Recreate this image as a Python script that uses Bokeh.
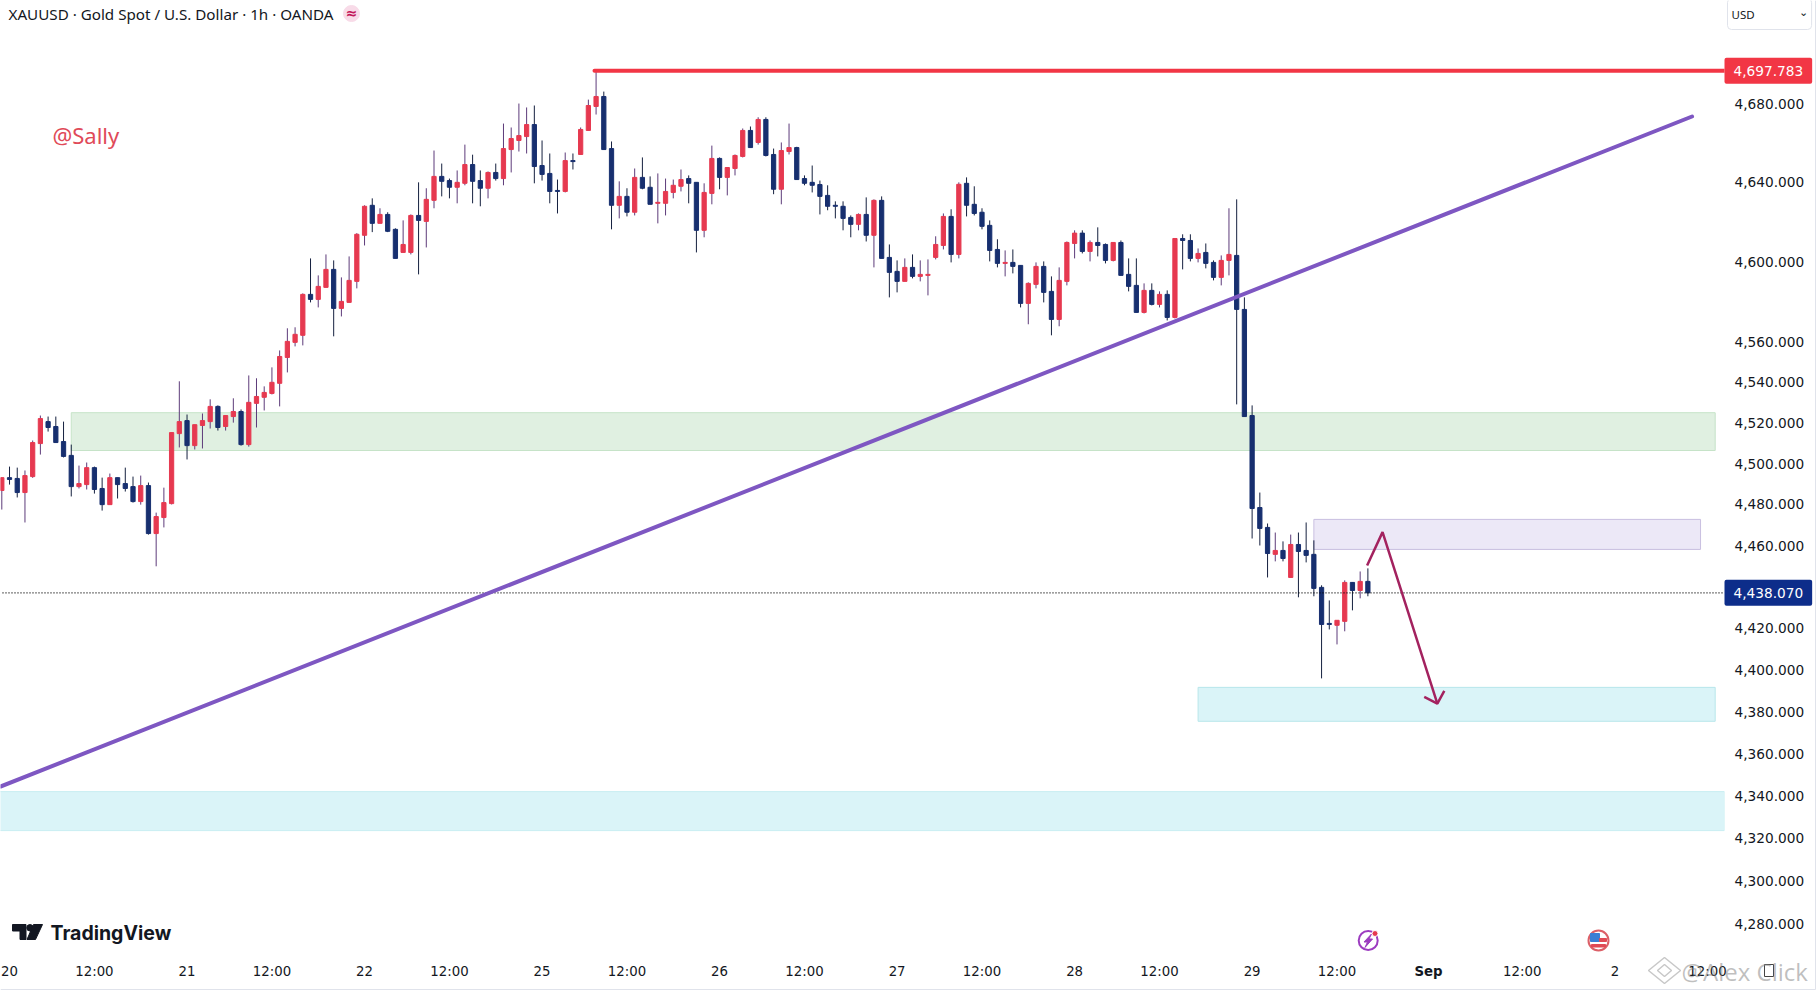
import math
from bokeh.embed import file_html
from bokeh.layouts import column
from bokeh.resources import INLINE
from bokeh.plotting import figure
from bokeh.models import (FixedTicker, Label, Range1d, ColumnDataSource)

# ---------- data ----------
opens = [
4487.8,4494.1,4493.7,4486.8,4494.6,4510.8,4521.6,4519.2,4511.8,4505.0,
4489.7,4490.7,4499.0,4488.8,4480.9,4494.1,4491.2,4489.7,4482.4,4490.2,
4466.8,4474.6,4481.4,4515.7,4522.1,4509.8,4519.7,4521.6,4529.1,4519.2,
4524.1,4526.6,4510.3,4530.6,4533.6,4535.5,4540.5,4553.3,4560.8,4564.3,
4584.7,4582.2,4588.2,4597.2,4577.7,4580.7,4591.2,4614.3,4629.4,4620.3,
4624.8,4617.3,4605.7,4605.7,4624.3,4621.3,4631.9,4644.0,4641.9,4638.5,
4640.5,4650.0,4641.9,4638.0,4646.0,4642.9,4657.6,4662.2,4664.2,4670.3,
4649.5,4645.5,4636.9,4636.4,4652.0,4655.1,4667.3,4679.5,4684.6,4658.1,
4629.4,4633.9,4625.9,4643.5,4638.5,4630.4,4630.4,4635.9,4639.0,4642.9,
4641.0,4616.8,4635.4,4653.1,4643.5,4648.0,4654.1,4667.3,4661.2,4672.9,
4655.1,4637.5,4656.6,4658.6,4642.9,4641.0,4639.9,4634.4,4629.4,4628.9,
4623.3,4619.8,4624.8,4614.3,4631.9,4603.2,4596.2,4591.2,4598.2,4593.7,
4594.2,4603.2,4609.2,4623.8,4604.7,4640.5,4629.9,4625.9,4619.3,4607.2,
4600.2,4600.7,4599.2,4580.2,4589.7,4598.7,4586.2,4572.2,4591.2,4610.2,
4615.4,4606.2,4610.7,4609.7,4601.7,4610.7,4594.7,4589.2,4575.7,4586.7,
4579.7,4584.7,4573.2,4612.7,4611.7,4602.7,4605.7,4600.7,4593.2,4601.7,
4604.2,4577.2,4524.6,4479.5,4469.8,4456.7,4458.6,4445.5,4461.5,4458.6,
4456.7,4440.7,4423.3,4422.4,4424.3,4443.1,4439.2,4443.6]
highs = [
4494.1,4499.5,4499.0,4497.6,4512.3,4524.6,4524.1,4524.1,4521.6,4510.3,
4500.0,4501.5,4499.5,4494.1,4496.1,4494.1,4499.0,4494.6,4495.1,4491.7,
4477.0,4489.2,4516.2,4541.5,4525.1,4520.1,4525.6,4532.6,4529.6,4524.6,
4533.1,4527.6,4544.4,4543.0,4539.0,4548.4,4556.8,4567.8,4568.3,4585.2,
4602.7,4594.2,4604.7,4601.7,4593.2,4603.7,4615.4,4629.4,4632.9,4627.9,
4625.9,4617.8,4621.8,4624.8,4641.0,4638.0,4657.1,4650.5,4642.9,4647.0,
4660.1,4655.0,4647.0,4646.5,4650.5,4670.8,4668.8,4681.0,4679.0,4680.0,
4662.2,4655.6,4642.4,4656.1,4655.6,4668.8,4683.0,4697.8,4687.1,4661.7,
4641.5,4638.0,4648.0,4653.6,4644.0,4645.5,4642.9,4642.4,4647.5,4644.5,
4641.0,4640.5,4659.6,4653.6,4648.5,4655.1,4668.3,4669.3,4674.0,4674.0,
4658.1,4661.2,4670.8,4659.0,4644.5,4649.5,4641.9,4639.5,4631.4,4631.4,
4624.3,4625.3,4633.4,4632.4,4633.9,4609.7,4601.7,4602.7,4604.7,4601.7,
4602.2,4613.8,4625.3,4627.4,4641.0,4643.5,4639.0,4627.9,4621.8,4612.3,
4606.7,4607.2,4599.2,4590.7,4600.7,4601.2,4593.7,4598.2,4611.2,4616.8,
4616.8,4611.7,4618.3,4610.2,4610.7,4611.7,4602.7,4602.7,4590.2,4590.2,
4586.2,4586.7,4612.7,4614.8,4614.8,4607.7,4610.2,4601.7,4604.2,4627.9,
4632.4,4583.2,4529.6,4486.8,4471.7,4467.3,4463.0,4466.3,4467.3,4472.2,
4463.5,4441.7,4434.4,4424.8,4444.1,4443.1,4448.4,4449.9]
lows = [
4478.5,4490.7,4484.4,4472.2,4494.0,4505.4,4516.7,4511.3,4504.0,4484.9,
4488.8,4488.3,4486.3,4478.0,4480.9,4483.9,4487.3,4481.9,4480.9,4466.3,
4450.9,4469.8,4481.0,4508.9,4503.0,4507.9,4508.4,4518.2,4517.2,4517.2,
4521.1,4509.8,4509.3,4518.7,4527.1,4535.0,4529.1,4545.9,4558.8,4559.3,
4580.7,4578.2,4588.2,4563.8,4573.7,4580.7,4587.7,4609.2,4615.9,4620.3,
4615.9,4602.7,4605.7,4604.7,4594.7,4608.2,4627.9,4633.9,4632.9,4630.4,
4639.5,4630.4,4628.9,4632.9,4641.9,4639.5,4646.0,4656.6,4655.6,4640.5,
4641.9,4630.4,4625.3,4635.9,4647.5,4655.0,4667.3,4675.4,4657.6,4617.3,
4622.8,4623.8,4624.3,4637.5,4629.9,4620.3,4624.3,4632.9,4636.4,4630.4,
4605.7,4613.3,4629.9,4637.5,4634.4,4644.5,4653.6,4658.6,4660.1,4654.1,
4635.0,4629.9,4655.1,4642.4,4639.5,4635.9,4624.8,4626.9,4622.8,4616.8,
4613.3,4616.8,4611.2,4598.2,4602.7,4583.2,4585.7,4591.2,4592.7,4591.2,
4584.2,4602.2,4607.2,4600.7,4602.7,4623.8,4624.3,4617.3,4601.2,4598.2,
4593.7,4595.2,4578.2,4569.8,4587.7,4580.7,4564.3,4568.8,4589.2,4602.7,
4605.2,4601.2,4603.7,4600.2,4601.2,4594.2,4586.2,4575.7,4575.2,4579.2,
4578.2,4571.7,4572.7,4597.2,4601.2,4600.7,4597.7,4591.7,4589.2,4594.2,
4530.1,4524.1,4464.4,4461.0,4445.5,4453.3,4453.3,4445.5,4435.9,4452.8,
4436.4,4396.9,4420.4,4413.2,4419.5,4429.6,4435.4,4436.4]
closes = [
4494.1,4493.2,4486.8,4495.1,4511.3,4523.1,4518.7,4511.3,4504.5,4489.7,
4491.2,4499.0,4488.3,4480.9,4494.1,4490.7,4488.8,4482.4,4490.2,4466.8,
4475.1,4481.9,4516.2,4521.6,4509.8,4520.1,4522.1,4529.1,4518.7,4524.6,
4526.6,4510.3,4531.1,4534.0,4536.0,4541.0,4553.8,4561.3,4564.8,4584.7,
4582.2,4588.7,4597.2,4577.7,4581.2,4591.7,4614.8,4628.9,4620.3,4624.8,
4616.3,4602.7,4609.7,4624.3,4621.8,4632.4,4644.0,4641.5,4638.5,4641.0,
4650.0,4641.5,4638.0,4646.0,4642.9,4658.1,4663.2,4664.7,4670.3,4649.0,
4645.0,4636.4,4636.4,4652.0,4651.5,4667.8,4680.0,4684.6,4657.6,4629.4,
4633.9,4625.9,4643.5,4638.0,4629.9,4630.9,4636.4,4639.5,4642.4,4640.5,
4616.8,4635.9,4653.1,4643.5,4648.5,4654.6,4667.3,4658.6,4672.9,4654.6,
4637.5,4657.1,4658.6,4642.4,4640.5,4639.5,4633.9,4628.9,4628.9,4622.8,
4619.8,4624.8,4614.3,4631.9,4602.7,4595.7,4591.2,4598.2,4593.7,4594.7,
4594.7,4609.7,4623.8,4604.7,4640.0,4629.4,4625.3,4618.8,4606.7,4600.2,
4600.7,4598.7,4580.2,4590.2,4598.7,4585.7,4572.2,4591.7,4610.7,4615.4,
4606.2,4610.7,4609.2,4601.7,4610.7,4594.2,4588.7,4575.7,4586.7,4579.7,
4584.7,4573.2,4612.7,4611.7,4602.7,4605.2,4600.2,4593.2,4601.7,4604.7,
4577.2,4524.1,4479.0,4469.3,4457.1,4458.6,4454.7,4461.5,4458.1,4456.2,
4440.2,4422.8,4422.8,4424.8,4443.1,4439.2,4443.6,4438.07]

price_ticks = [4680,4640,4600,4560,4540,4520,4500,4480,4460,4420,4400,4380,4360,4340,4320,4300,4280]
time_pos = [1,12,24,35,47,58,70,81,93,104,116,127,139,150,162,173,197,209,221]
time_lab = ["20","12:00","21","12:00","22","12:00","25","12:00","26","12:00","27","12:00","28","12:00","29","12:00","12:00","2","12:00"]

zones = [  # left bar, right bar, upper price, lower price, fill, border
    (9.0, 222.0, 4526.0, 4507.4, "#e0f0e1", "#c6e3c8"),
    (170.0, 220.1, 4473.7, 4459.1, "#ece8f7", "#c9bfe0"),
    (155.0, 222.0, 4392.6, 4376.4, "#daf4f8", "#b8e6ea"),
    (-1.0, 223.2, 4343.0, 4324.6, "#daf4f8", "#c8eef2"),
]
peak_price = 4697.783
last_price = 4438.07
trend_x = [-0.17, 219.0]
trend_y = [4345.4, 4674.4]
arrow_x = [176.9, 178.9, 186.0]
arrow_y = [4451.3, 4467.5, 4384.8]
head_x = [184.3, 186.0, 186.9]
head_y = [4388.0, 4384.8, 4390.9]

# ---------- layout helpers ----------
W, H = 1817, 994
FW, FH = 1724, 950
STEP = 7.718
LABEL_NUDGE = 1.0   # price-scale labels sit about 2px above their grid position
def bx(px):
    return (px - 1.3) / STEP
def pr(py):
    return 4680 * math.exp(-(py - 105) / 9181)
def py_of(price):
    return 105 + 9181 * math.log(4680 / price)

p = figure(width=W, height=H, output_backend="svg", toolbar_location=None,
           y_axis_type="log", y_axis_location="right", frame_align=False,
           x_range=Range1d(bx(0), bx(FW)), y_range=Range1d(pr(FH), pr(0)),
           min_border_left=0, min_border_top=0, min_border_right=W-FW, min_border_bottom=H-FH)
p.styles = {"position": "absolute", "left": "0px", "top": "0px"}
p.outline_line_color = None
p.background_fill_color = "white"
p.grid.visible = False

ya = p.yaxis[0]
ya.ticker = FixedTicker(ticks=[t + LABEL_NUDGE for t in price_ticks])
ya.major_label_overrides = {t + LABEL_NUDGE: f"{t:,.3f}" for t in price_ticks}
ya.axis_line_color = None
ya.major_tick_line_color = None
ya.minor_tick_line_color = None
ya.major_tick_out = 0
ya.minor_tick_out = 0
ya.major_label_standoff = 10
ya.major_label_text_font = "DejaVu Sans"
ya.major_label_text_font_size = "13.7px"
ya.major_label_text_color = "#131722"

xa = p.xaxis[0]
xa.ticker = FixedTicker(ticks=time_pos)
xa.major_label_overrides = dict(zip(time_pos, time_lab))
xa.axis_line_color = None
xa.major_tick_line_color = None
xa.minor_tick_line_color = None
xa.major_tick_out = 0
xa.minor_tick_out = 0
xa.major_label_standoff = 13
xa.major_label_text_font = "DejaVu Sans"
xa.major_label_text_font_size = "13.3px"
xa.major_label_text_color = "#131722"

# zones
for l, r, t, b, f, c in zones:
    p.quad(left=l, right=r, top=t, bottom=b, fill_color=f, line_color=c, line_width=1)

# candles
RED, BLUE = "#e63950", "#172f6f"
idx = list(range(len(opens)))
up = [c >= o for o, c in zip(opens, closes)]
src = ColumnDataSource(dict(
    x=idx, h=highs, l=lows,
    top=[max(o, c) for o, c in zip(opens, closes)],
    bot=[min(o, c) for o, c in zip(opens, closes)],
    col=[RED if u else BLUE for u in up],
    wick=["#5d3b7a" if u else "#15203f" for u in up]))
p.segment(x0="x", x1="x", y0="l", y1="h", color="wick", line_width=1, source=src)
p.vbar(x="x", width=0.55, top="top", bottom="bot", fill_color="col", line_color="col", line_width=1, source=src)

# drawings
p.line([bx(1722), bx(0)], [last_price, last_price], line_color="#000000", line_dash="1 2", line_width=1.2)
p.line(trend_x, trend_y, line_color="#7e57c2", line_width=4, line_cap="round")
p.line([bx(594), bx(FW)], [peak_price, peak_price], line_color="#f23645", line_width=4, line_cap="round")
p.line(arrow_x, arrow_y, line_color="#a3225f", line_width=2.5)
p.line(head_x, head_y, line_color="#a3225f", line_width=2.5)

# ---------- transparent page-sized layer for everything around the pane ----------
q = figure(width=W, height=H, output_backend="svg", toolbar_location=None, frame_align=False,
           x_range=Range1d(0, W), y_range=Range1d(H, 0),
           min_border_left=0, min_border_top=0, min_border_right=0, min_border_bottom=0)
q.styles = {"position": "absolute", "left": "0px", "top": "0px"}
q.axis.visible = False
q.grid.visible = False
q.outline_line_color = None
q.background_fill_color = None
q.border_fill_color = None

def txt(s, px, py, size, color, font="DejaVu Sans", style="normal", align="left", alpha=1.0, **kw):
    q.add_layout(Label(x=px, y=py, text=s, text_font=font, text_font_size=size,
                       text_color=color, text_font_style=style, text_align=align,
                       text_baseline="middle", text_alpha=alpha, **kw))

txt("XAUUSD · Gold Spot / U.S. Dollar · 1h · OANDA", 8, 13, "15.2px", "#131722", font="Noto Sans")
q.scatter([351], [13], size=16, color="#f8dbe8")
txt("≈", 351, 12.5, "14px", "#c2185b", align="center", style="bold")
txt("@Sally", 52, 134, "22px", "#e04a58", font="Noto Sans")
txt("TradingView", 50, 932, "19.5px", "#131722", font="Inter", style="bold")
txt("Sep", 1428, 970.5, "13.3px", "#131722", style="bold", align="center")

# TradingView mark
q.patch([12, 25.5, 25.5, 19.5, 19.5, 12], [924, 924, 939, 939, 930.5, 930.5], color="#131722")
q.scatter([29.5], [927.3], size=6.5, color="#131722")
q.patch([33, 42, 35, 26.5], [924, 924, 939, 939], color="#131722")

# event icons
q.scatter([1367.7], [940], size=19, fill_color=None, line_color="#9c3cc0", line_width=2)
q.patch([1371, 1363.5, 1367, 1364.5, 1372, 1368.5], [933.5, 941.5, 941.5, 947, 938.5, 938.5], color="#9c3cc0")
q.scatter([1374.5], [933], size=6, fill_color="#e63950", line_color="white", line_width=1)
q.scatter([1598], [940], size=20, fill_color="white", line_color="#dc6068", line_width=2)
q.quad(left=1590, right=1599, top=933, bottom=941, color="#3a7fd5")
q.quad(left=1599, right=1606, top=938, bottom=941, color="#e04a55")
q.quad(left=1591, right=1605, top=944, bottom=946.5, color="#e04a55")

# price scale tags and the currency box
def tag(s, price, fill):
    q.add_layout(Label(x=FW, y=py_of(price), text=s, text_color="white",
                       text_font="DejaVu Sans", text_font_size="13.7px",
                       text_baseline="middle", background_fill_color=fill,
                       padding=(9, 8), border_radius=2))
tag("4,697.783", peak_price, "#f23645")
tag("4,438.070", last_price, "#0d2d8a")
q.add_layout(Label(x=1727, y=13.5, text="USD", text_color="#131722",
                   text_font="Noto Sans", text_font_size="11.5px", text_baseline="middle",
                   border_line_color="#e0e3eb", border_radius=4, padding=(4, 57, 8, 8)))
txt("⌄", 1803, 12, "11px", "#131722", align="center")

# watermark, edges
txt("@Alex Click", 1681, 971, "24px", "#808080", font="Open Sans", alpha=0.5)
q.line([1664, 1680, 1664, 1648, 1664], [957, 970, 983, 970, 957], line_color="#c8c8c8", line_width=1.5)
q.line([1664, 1671, 1664, 1657, 1664], [964, 970, 976, 970, 964], line_color="#c8c8c8", line_width=1.5)
q.line([1764, 1773, 1773, 1764, 1764], [964, 964, 976, 976, 964], line_color="#444444", line_width=1)
q.line([0, 1815, 1815], [989, 989, 0], line_color="#e0e3eb", line_width=1)

root = column(p, q, width=W, height=H)
root.styles = {"position": "absolute", "left": "0px", "top": "0px"}
open("out.html", "w").write(file_html(root, INLINE))
